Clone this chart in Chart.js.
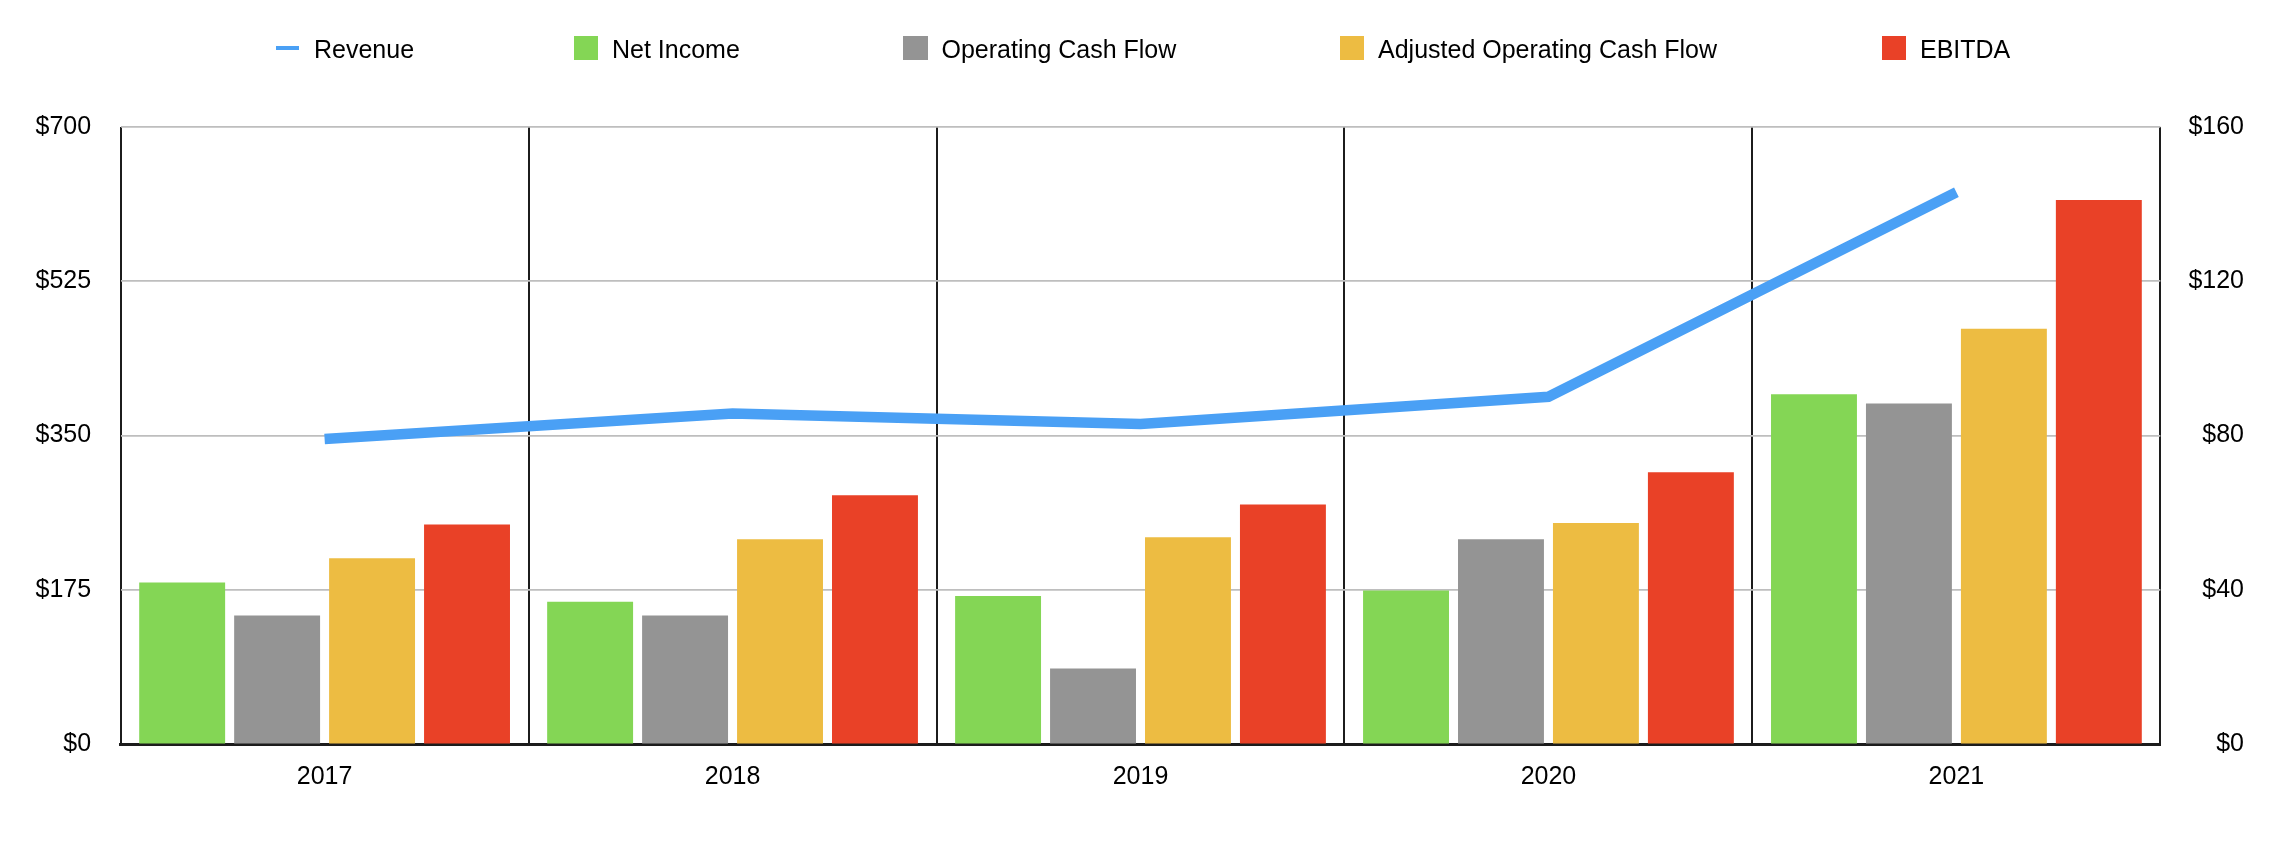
<!DOCTYPE html>
<html>
<head>
<meta charset="utf-8">
<script src="https://cdn.jsdelivr.net/npm/chart.js@4.4.1/dist/chart.umd.min.js"></script>
<style>
  html, body { margin: 0; padding: 0; background: #ffffff; overflow: hidden; }
  #wrap { position: relative; width: 2276px; height: 844px; }
  #chart { position: absolute; left: 0; top: 0; }
  .lg-mark { position: absolute; }
  .lg-text { position: absolute; top: 37px; font: 25px 'Liberation Sans', Arial, Helvetica, sans-serif; line-height: 25px; color: #000; white-space: nowrap; }
</style>
</head>
<body>
<div id="wrap">
  <canvas id="chart" width="2276" height="844"></canvas>
  <div id="legend"></div>
</div>
<script>
// ---- data ----
const categories = ['2017', '2018', '2019', '2020', '2021'];
const revenue = [346, 375, 363, 394, 626];               // left axis
const netIncome = [41.9, 36.9, 38.4, 39.8, 90.7];        // right axis
const operatingCashFlow = [33.3, 33.3, 19.6, 53.1, 88.3];
const adjustedOperatingCashFlow = [48.2, 53.1, 53.6, 57.3, 107.7];
const ebitda = [56.9, 64.5, 62.1, 70.5, 141.1];
const leftTicks = [0, 175, 350, 525, 700];
const rightTicks = [0, 40, 80, 120, 160];
const seriesNames = ['Revenue', 'Net Income', 'Operating Cash Flow', 'Adjusted Operating Cash Flow', 'EBITDA'];

// ---- styles ----
const colors = ['#4AA0F5', '#84D655', '#949494', '#EDBC42', '#E94127'];
const FONT = "'Liberation Sans', Arial, Helvetica, sans-serif";

// ---- legend (HTML text) ----
const legendLayout = [
  { mark: { left: 276, top: 45.5, width: 23, height: 4.5 }, textLeft: 314 },
  { mark: { left: 573.5, top: 36, width: 24, height: 24 }, textLeft: 612 },
  { mark: { left: 903, top: 36, width: 24.5, height: 24 }, textLeft: 941.5 },
  { mark: { left: 1339.5, top: 36, width: 24, height: 24 }, textLeft: 1378 },
  { mark: { left: 1881.5, top: 36, width: 24, height: 24 }, textLeft: 1920 }
];
const legendEl = document.getElementById('legend');
seriesNames.forEach((name, i) => {
  const L = legendLayout[i];
  const m = document.createElement('div');
  m.className = 'lg-mark';
  m.style.left = L.mark.left + 'px';
  m.style.top = L.mark.top + 'px';
  m.style.width = L.mark.width + 'px';
  m.style.height = L.mark.height + 'px';
  m.style.background = colors[i];
  legendEl.appendChild(m);
  const t = document.createElement('div');
  t.className = 'lg-text';
  t.style.left = L.textLeft + 'px';
  t.textContent = name;
  legendEl.appendChild(t);
});

// ---- chart ----
Chart.defaults.font.family = FONT;
Chart.defaults.font.size = 25;
Chart.defaults.color = '#000000';

const barCommon = {
  type: 'bar',
  yAxisID: 'y1',
  order: 1,
  borderWidth: 0,
  categoryPercentage: 0.931,
  barPercentage: 0.905
};

new Chart(document.getElementById('chart'), {
  data: {
    labels: categories,
    datasets: [
      {
        type: 'line',
        label: seriesNames[0],
        data: revenue,
        yAxisID: 'y',
        order: 0,
        borderColor: colors[0],
        backgroundColor: colors[0],
        borderWidth: 10.5,
        pointRadius: 0,
        pointHoverRadius: 0,
        tension: 0,
        fill: false,
        borderJoinStyle: 'miter',
        borderCapStyle: 'butt'
      },
      Object.assign({ label: seriesNames[1], data: netIncome, backgroundColor: colors[1] }, barCommon),
      Object.assign({ label: seriesNames[2], data: operatingCashFlow, backgroundColor: colors[2] }, barCommon),
      Object.assign({ label: seriesNames[3], data: adjustedOperatingCashFlow, backgroundColor: colors[3] }, barCommon),
      Object.assign({ label: seriesNames[4], data: ebitda, backgroundColor: colors[4] }, barCommon)
    ]
  },
  options: {
    responsive: false,
    maintainAspectRatio: false,
    animation: false,
    devicePixelRatio: 1,
    layout: { padding: { left: 6, right: 32, top: 127, bottom: 34 } },
    plugins: {
      legend: { display: false },
      tooltip: { enabled: false },
      title: { display: false }
    },
    scales: {
      x: {
        type: 'category',
        offset: true,
        grid: {
          display: true,
          offset: true,
          color: '#1c1c1c',
          lineWidth: 2,
          drawTicks: false
        },
        border: { display: true, color: '#1c1c1c', width: 3 },
        ticks: { padding: 18, color: '#000', font: { size: 25 } }
      },
      y: {
        type: 'linear',
        position: 'left',
        min: leftTicks[0],
        max: leftTicks[leftTicks.length - 1],
        afterBuildTicks: (scale) => { scale.ticks = leftTicks.map(v => ({ value: v })); },
        grid: { color: '#BEBEBE', lineWidth: 1.7, drawTicks: false },
        border: { display: false },
        ticks: { padding: 29.5, color: '#000', font: { size: 25 }, callback: (v) => '$' + v }
      },
      y1: {
        type: 'linear',
        position: 'right',
        min: rightTicks[0],
        max: rightTicks[rightTicks.length - 1],
        afterBuildTicks: (scale) => { scale.ticks = rightTicks.map(v => ({ value: v })); },
        grid: { drawOnChartArea: false, drawTicks: false },
        border: { display: false },
        ticks: { padding: 14, crossAlign: 'far', color: '#000', font: { size: 25 }, callback: (v) => '$' + v }
      }
    }
  }
});
</script>
</body>
</html>
